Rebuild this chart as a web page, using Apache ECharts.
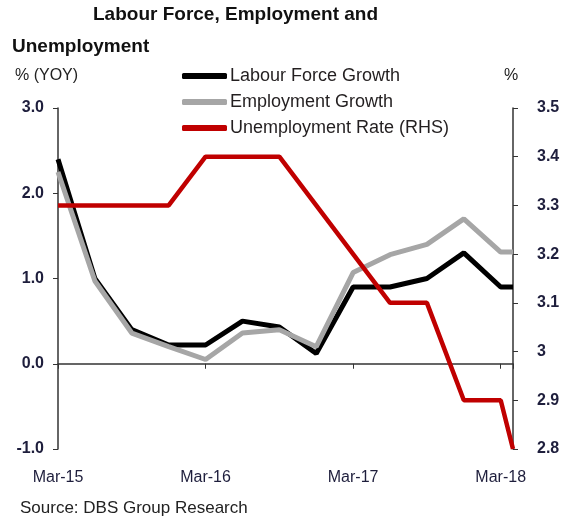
<!DOCTYPE html>
<html>
<head>
<meta charset="utf-8">
<script src="https://cdn.jsdelivr.net/npm/echarts@6/dist/echarts.min.js"></script>
<style>
  html, body { margin: 0; padding: 0; background: #fff; }
  #chart { width: 568px; height: 529px; }
</style>
</head>
<body>
<div id="chart"></div>
<script>
// quarterly observations, Mar-15 .. Mar-18, plus Apr-18
var periods = ['Mar-15', 'Jun-15', 'Sep-15', 'Dec-15', 'Mar-16', 'Jun-16', 'Sep-16',
               'Dec-16', 'Mar-17', 'Jun-17', 'Sep-17', 'Dec-17', 'Mar-18', 'Apr-18'];
// months after Mar-15
var monthOffset = [0, 3, 6, 9, 12, 15, 18, 21, 24, 27, 30, 33, 36, 37];
var labourForce = [2.4, 1.0, 0.4, 0.22, 0.22, 0.5, 0.43, 0.12, 0.9, 0.9, 1.0, 1.3, 0.9, 0.9];
var employment = [2.25, 0.97, 0.36, 0.2, 0.05, 0.36, 0.4, 0.2, 1.07, 1.28, 1.4, 1.7, 1.31, 1.31];
var unemployment = [3.3, 3.3, 3.3, 3.3, 3.4, 3.4, 3.4, 3.3, 3.2, 3.1, 3.1, 2.9, 2.9, 2.8];
var tickLabels = ['Mar-15', 'Mar-16', 'Mar-17', 'Mar-18'];

function pairs(vals) {
  return vals.map(function (v, i) { return [monthOffset[i], v]; });
}

var chart = echarts.init(document.getElementById('chart'));
var labelColor = '#1e1e3c';
var font = 'Liberation Sans';

chart.setOption({
  animation: false,
  textStyle: { fontFamily: font },
  grid: { left: 58, right: 55, top: 108, bottom: 80 },
  graphic: [
    { type: 'text', left: 93, top: 5,
      style: { text: 'Labour Force, Employment and', font: 'bold 19px ' + font, fill: '#111' } },
    { type: 'text', left: 12, top: 37,
      style: { text: 'Unemployment', font: 'bold 19px ' + font, fill: '#111' } },
    { type: 'text', left: 15, top: 68,
      style: { text: '% (YOY)', font: '16px ' + font, fill: '#222' } },
    { type: 'text', left: 504, top: 68,
      style: { text: '%', font: '16px ' + font, fill: '#222' } },
    { type: 'text', left: 20, top: 500,
      style: { text: 'Source: DBS Group Research', font: '17px ' + font, fill: '#222' } }
  ],
  legend: {
    orient: 'vertical',
    left: 177,
    top: 62,
    itemWidth: 45,
    itemHeight: 6,
    itemGap: 8,
    icon: 'roundRect',
    textStyle: { fontSize: 18, color: '#231f20', fontFamily: font, padding: [0, 0, 0, -2] },
    data: ['Labour Force Growth', 'Employment Growth', 'Unemployment Rate (RHS)']
  },
  xAxis: [
    {
      type: 'value',
      min: 0,
      max: 37,
      interval: 12,
      axisLine: { onZero: true, onZeroAxisIndex: 0, lineStyle: { color: '#333', width: 1.5 } },
      axisTick: { show: true, length: 5, lineStyle: { color: '#333' } },
      minorTick: { show: false },
      axisLabel: { show: false },
      splitLine: { show: false }
    },
    {
      type: 'value',
      position: 'bottom',
      min: 0,
      max: 37,
      interval: 12,
      axisLine: { show: false, onZero: false },
      axisTick: { show: false },
      splitLine: { show: false },
      axisLabel: {
        margin: 21,
        fontSize: 16,
        color: labelColor,
        showMaxLabel: false,
        formatter: function (v) { return tickLabels[v / 12] || ''; }
      }
    }
  ],
  yAxis: [
    {
      type: 'value',
      position: 'left',
      min: -1,
      max: 3,
      interval: 1,
      axisLine: { show: true, onZero: false, lineStyle: { color: '#333', width: 1.5 } },
      axisTick: { show: true, length: 5, lineStyle: { color: '#333' } },
      minorTick: { show: false },
      splitLine: { show: false },
      axisLabel: {
        margin: 14,
        fontSize: 16,
        fontWeight: 'bold',
        color: labelColor,
        formatter: function (v) { return v.toFixed(1); }
      }
    },
    {
      type: 'value',
      min: 2.8,
      max: 3.5,
      interval: 0.1,
      position: 'right',
      axisLine: { show: true, onZero: false, lineStyle: { color: '#333', width: 1.5 } },
      axisTick: { show: true, length: 5, lineStyle: { color: '#333' } },
      minorTick: { show: false },
      splitLine: { show: false },
      axisLabel: {
        margin: 24,
        fontSize: 16,
        fontWeight: 'bold',
        color: labelColor,
        formatter: function (v) { return String(Math.round(v * 10) / 10); }
      }
    }
  ],
  series: [
    {
      name: 'Labour Force Growth',
      type: 'line',
      xAxisIndex: 0,
      yAxisIndex: 0,
      symbol: 'none',
      itemStyle: { color: '#000' },
      lineStyle: { color: '#000', width: 5 },
      data: pairs(labourForce)
    },
    {
      name: 'Employment Growth',
      type: 'line',
      xAxisIndex: 0,
      yAxisIndex: 0,
      symbol: 'none',
      itemStyle: { color: '#a6a6a6' },
      lineStyle: { color: '#a6a6a6', width: 5 },
      data: pairs(employment)
    },
    {
      name: 'Unemployment Rate (RHS)',
      type: 'line',
      xAxisIndex: 0,
      yAxisIndex: 1,
      symbol: 'none',
      itemStyle: { color: '#c00000' },
      lineStyle: { color: '#c00000', width: 4.5 },
      data: pairs(unemployment)
    }
  ]
});
</script>
</body>
</html>
